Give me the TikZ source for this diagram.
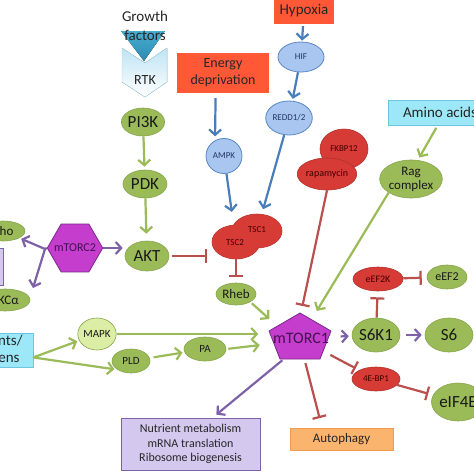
\documentclass[tikz,border=0pt]{standalone}
\usepackage{fontspec}
\setmainfont{Carlito}
\usetikzlibrary{arrows.meta,shapes.geometric}

\definecolor{leaf}{HTML}{9BBB59}
\definecolor{leafdk}{HTML}{86A54A}
\definecolor{leaflt}{HTML}{DCEDA6}
\definecolor{blood}{HTML}{D63B36}
\definecolor{blooddk}{HTML}{B0332E}
\definecolor{inhib}{HTML}{B9504D}
\definecolor{sky}{HTML}{A9C6F0}
\definecolor{skydk}{HTML}{5A86C4}
\definecolor{navy}{HTML}{1F3864}
\definecolor{arrblue}{HTML}{4A7EBB}
\definecolor{plum}{HTML}{C43DCC}
\definecolor{plumdk}{HTML}{7A2A8C}
\definecolor{plumtxt}{HTML}{45104F}
\definecolor{violet}{HTML}{7E62A8}
\definecolor{lilac}{HTML}{D5C8EE}
\definecolor{aqua}{HTML}{9CE8F8}
\definecolor{aquadk}{HTML}{6CC6DE}
\definecolor{flame}{HTML}{FF5836}
\definecolor{peach}{HTML}{FBB46E}
\definecolor{peachdk}{HTML}{F39A4C}
\definecolor{rtktop}{HTML}{45AECE}
\definecolor{rtkbot}{HTML}{2C8AB2}
\definecolor{rtklt}{HTML}{BFE4F4}
\definecolor{rtkedge}{HTML}{A3D6EC}

\newcommand\fz[2]{\fontsize{#1}{#2}\selectfont}

\begin{document}
\begin{tikzpicture}[x=1pt,y=-1pt,
	grn/.style={shape=ellipse,draw=leafdk,fill=leaf,line width=0.6pt,inner sep=0pt,text=black!90},
	redn/.style={shape=ellipse,draw=blooddk,fill=blood,line width=0.6pt,inner sep=0pt,text=red!25!black},
	bluen/.style={shape=ellipse,draw=skydk,fill=sky,line width=0.8pt,inner sep=0pt,text=navy},
	box/.style={shape=rectangle,inner sep=0pt,align=center,text=black!85},
	act/.style={line width=2.2pt,-{Straight Barb[length=5.5pt,width=12pt]}},
	inh/.style={line width=2.2pt,color=inhib,-{Bar[width=14pt]}}]
	
	\path[clip] (0,0) rectangle (474,474);
	\useasboundingbox (0,0) rectangle (474,474);
	\fill[white] (0,0) rectangle (474,474);
	
	% receptor
	\filldraw[draw=rtkedge, top color=rtklt, bottom color=white] (122,48) -- (145,63) -- (167,48) -- (167,82) -- (145,97) -- (122,82) -- cycle;
	\fill[top color=rtktop, bottom color=rtkbot] (121,31) -- (165,31) -- (144,61) -- cycle;
	\node[font=\fz{15}{19}, align=center, text=black!85] (gf) at (145,26) {Growth\\factors};
	\node[font=\fz{14}{14}, text=black!85] (rtk) at (145,80) {RTK};
	
	\node[box, fill=flame, minimum width=92, minimum height=40, font=\fz{14}{17}] (energy) at (223,73) {Energy\\deprivation};
	\node[box, fill=flame, minimum width=60, minimum height=26, font=\fz{15}{15}] (hyp) at (304,11) {Hypoxia};
	\node[box, fill=aqua, draw=aquadk, minimum width=104, minimum height=25, font=\fz{15}{15}] (amino) at (440,112.5) {Amino acids};
	\node[box, fill=aqua, draw=aquadk, minimum width=84, minimum height=34, font=\fz{15}{17}] (nut) at (-9,350) {Nutrients/\\Mitogens};
	\node[box, fill=lilac, draw=violet, minimum width=139, minimum height=52, font=\fz{12}{14.5}] (nm) at (190.5,444) {Nutrient metabolism\\mRNA translation\\Ribosome biogenesis};
	\node[box, fill=peach, draw=peachdk, minimum width=103, minimum height=22, font=\fz{13}{13}] (auto) at (341.5,439) {Autophagy};
	\node[box, fill=lilac, draw=violet, minimum width=46, minimum height=37] (lav) at (-20,266.5) {};
	
	\node[bluen, minimum width=46, minimum height=30, font=\fz{9}{9}] (hif) at (301,57) {HIF};
	\node[bluen, minimum width=46, minimum height=34, font=\fz{9}{9}] (redd) at (289,118) {REDD1/2};
	\node[bluen, minimum width=36, minimum height=35, font=\fz{9}{9}] (ampk) at (224,156) {AMPK};
	
	\node[grn, minimum width=42, minimum height=28, font=\fz{17}{17}] (pi3k) at (143,122) {PI3K};
	\node[grn, minimum width=44, minimum height=28, font=\fz{17}{17}] (pdk) at (145,184) {PDK};
	\node[grn, minimum width=44, minimum height=30, font=\fz{17}{17}] (akt) at (147,256) {AKT};
	\node[grn, minimum width=40, minimum height=22, font=\fz{13}{13}] (rheb) at (236,294) {Rheb};
	\node[grn, minimum width=44, minimum height=20, font=\fz{13}{13}] (rho) at (3,231) {Rho};
	\node[grn, minimum width=50, minimum height=22, font=\fz{13}{13}] (pkc) at (5,300) {PKCα};
	\node[grn, fill=leaflt, minimum width=38, minimum height=32, font=\fz{11}{11}] (mapk) at (97,334) {MAPK};
	\node[grn, minimum width=38, minimum height=24, font=\fz{11}{11}] (pld) at (131,361) {PLD};
	\node[grn, minimum width=42, minimum height=24, font=\fz{11}{11}] (pa) at (205,349) {PA};
	\node[grn, minimum width=44, minimum height=34, font=\fz{17}{17}] (s6k1) at (376,335) {S6K1};
	\node[grn, minimum width=48, minimum height=34, font=\fz{17}{17}] (s6) at (449,335) {S6};
	\node[grn, minimum width=40, minimum height=24, font=\fz{12}{12}] (eef2) at (447,277) {eEF2};
	\node[grn, minimum width=52, minimum height=38, font=\fz{17}{17}] (eif) at (458,402) {eIF4E};
	\node[grn, minimum width=48, minimum height=38, font=\fz{13}{14}, align=center] (rag) at (411,179) {Rag\\complex};
	
	\node[redn, minimum width=50, minimum height=24, font=\fz{10}{10}] (eef2k) at (378,279) {eEF2K};
	\node[redn, minimum width=48, minimum height=24, font=\fz{9}{9}] (bp1) at (376,379) {4E-BP1};
	\node[redn, minimum width=48, minimum height=40, font=\fz{9}{9}] (fkbp) at (344,149) {FKBP12};
	\node[redn, minimum width=58, minimum height=32, font=\fz{10}{10}] (rapa) at (327,174) {rapamycin};
	\node[redn, minimum width=50, minimum height=34] (tsc1) at (257,231) {};
	\node[redn, minimum width=48, minimum height=34] (tsc2) at (236,242) {};
	\fill[blood] (tsc1.center) ellipse [x radius=24.6, y radius=16.6] (tsc2.center) ellipse [x radius=23.6, y radius=16.6];
	\node[font=\fz{9}{9}, text=red!25!black] (tsc1t) at (257,230) {TSC1};
	\node[font=\fz{9}{9}, text=red!25!black] (tsc2t) at (235,243) {TSC2};
	
	\node[shape=regular polygon, regular polygon sides=6, minimum size=51, fill=plum, draw=plumdk, line width=0.8pt, inner sep=-4pt, font=\fz{12}{12}, text=plumtxt] (m2) at (75,248) {mTORC2};
	\filldraw[fill=plum, draw=plumdk, line width=0.8pt] (300,313) -- (331,331) -- (320,359) -- (280,359) -- (269,331) -- cycle;
	\node[shape=ellipse, minimum width=62, minimum height=50, inner sep=0pt, font=\fz{16}{16}, text=plumtxt] (m1) at (301,338) {mTORC1};
	
	\coordinate (m2j) at (45,249);
	\coordinate (pkctip) at (33,288);
	
	% activation
	\path[act, leaf] (pi3k) edge[shorten >=3pt] (pdk);
	\path[act, leaf] (pdk) edge[shorten >=7pt] (akt);
	\path[act, leaf] (nut.-10) edge[shorten >=2pt] (mapk);
	\path[act, leaf] (nut.-10) edge[shorten >=3pt] (pld.south west);
	\path[act, leaf] (pld) edge[shorten <=4pt, shorten >=2pt] (pa);
	\path[act, leaf] (pa.east) edge[shorten <=2pt, shorten >=3pt] (m1.190);
	\draw[act, leaf, shorten >=3pt] (mapk.east) -- (mapk.east -| m1.west);
	\path[act, leaf] (rheb.south east) edge[shorten <=2pt, shorten >=3pt] (m1.150);
	\path[act, leaf] (rag.south west) edge[shorten >=4pt] (m1.60);
	\path[act, leaf] (amino.-100) edge[shorten <=3pt, shorten >=3pt] (rag.70);
	
	\path[act, arrblue] (energy.-110) edge[shorten <=5pt, shorten >=4pt] (ampk.120);
	\path[act, arrblue] (hyp) edge[shorten <=2pt, shorten >=1pt] (hif);
	\path[act, arrblue] (hif) edge[shorten >=2pt] (redd);
	\path[act, arrblue] (ampk) edge[shorten >=13pt] (tsc2);
	\path[act, arrblue] (redd) edge[shorten >=5pt] (tsc1);
	
	\draw[violet, line width=2.2pt] (m2.west) -- (m2j);
	\path[act, violet] (m2j) edge[shorten >=2pt] (rho);
	\path[act, violet] (m2j) edge (pkctip);
	\draw[act, violet, shorten >=2pt] (m2.east) -- (m2.east -| akt.west);
	\path[act, violet] (m1) edge[shorten >=3pt] (s6k1);
	\path[act, violet] (s6k1) edge[shorten <=6pt, shorten >=3pt] (s6);
	\path[act, violet] (m1.-130) edge[shorten >=5pt] (nm.50);
	
	% inhibition
	\draw[inh, shorten <=3pt, shorten >=5pt] (akt.east) -- (akt.east -| tsc2.west);
	\path[inh] (tsc2) edge[shorten >=6pt] (rheb);
	\path[inh] (rapa.south) edge[shorten >=7pt] (m1.north);
	\path[inh] (s6k1) edge[shorten >=6pt] (eef2k);
	\path[inh] (eef2k) edge[shorten >=5pt] (eef2);
	\path[inh] (m1.-30) edge[shorten >=4pt] (bp1);
	\path[inh] (bp1) edge[shorten >=5pt] (eif);
	\path[inh] (m1.-80) edge[shorten >=10pt] (auto.150);
	
\end{tikzpicture}
\end{document}
